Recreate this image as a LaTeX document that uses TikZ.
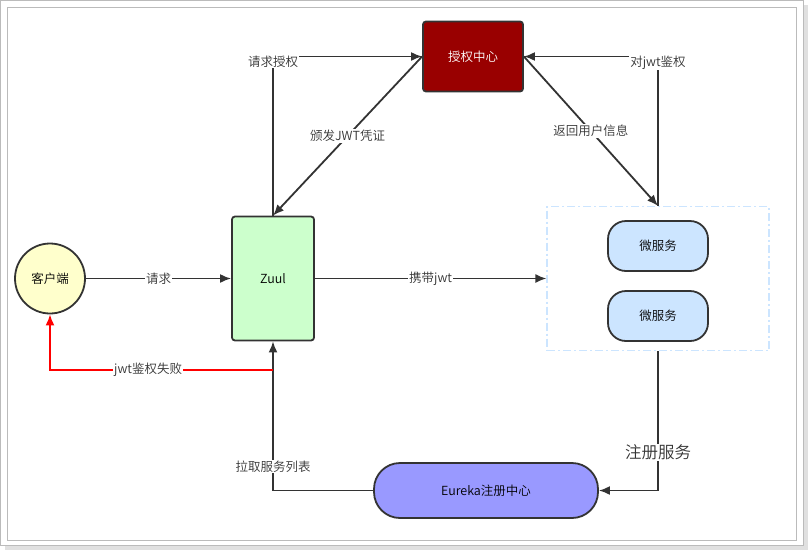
\documentclass[tikz,border=0pt]{standalone}
\usepackage{fontspec}
\setmainfont{Noto Sans CJK SC}[UprightFont=* DemiLight]
\usetikzlibrary{arrows.meta}
\definecolor{linegray}{HTML}{333333}
\definecolor{framegray}{HTML}{BBBBBB}
\definecolor{authred}{HTML}{990000}
\definecolor{zuulgreen}{HTML}{CCFFCC}
\definecolor{clientyellow}{HTML}{FFFFCC}
\definecolor{msblue}{HTML}{CCE5FF}
\definecolor{eurekablue}{HTML}{9999FF}
\tikzset{
    box/.style={draw=linegray, line width=1.8pt, font=\fontsize{12.5}{14}\selectfont, inner sep=0pt},
    flow/.style={draw=linegray, line width=1.8pt, -{Latex[length=11pt,width=9pt]}},
    lbl/.style={fill=white, inner sep=1pt, text=linegray, font=\fontsize{12.5}{14}\selectfont}
}
\begin{document}
\begin{tikzpicture}[x=1pt, y=-1pt]
            \useasboundingbox (0,0) rectangle (810,552);
            % frame
            \fill[black!12] (5,5) rectangle (808,550);
            \draw[framegray, fill=white] (0.5,0.5) rectangle (803,545);
            \draw[framegray, line width=1pt] (7.5,7.5) rectangle (796,540);
            % nodes
            \node[box, fill=authred, text=white, rounded corners=3pt, minimum width=100pt, minimum height=70pt] (auth) at (473,56.5) {授权中心};
            \node[box, fill=zuulgreen, rounded corners=3pt, minimum width=82pt, minimum height=124pt] (zuul) at (273,278.5) {Zuul};
            \node[box, fill=clientyellow, circle, minimum size=70pt] (client) at (50,278.5) {客户端};
            \node[draw=msblue, line width=1.2pt, dash pattern=on 8pt off 3pt on 2pt off 3pt, minimum width=222pt, minimum height=144pt] (svc) at (658,278.5) {};
            \node[box, fill=msblue, rounded corners=18pt, minimum width=100pt, minimum height=50pt] (ms1) at (658,246) {微服务};
            \node[box, fill=msblue, rounded corners=18pt, minimum width=100pt, minimum height=50pt] (ms2) at (658,316) {微服务};
            \node[box, fill=eurekablue, rounded corners=26pt, minimum width=224pt, minimum height=55pt] (eureka) at (486,490.5) {Eureka注册中心};
            \coordinate (fail) at (273,370);
            % connectors
            \draw[flow] (client) -- (zuul) node[lbl, midway] {请求};
            \draw[flow] (zuul) -- (svc.west) node[lbl, midway] {携带jwt};
            \draw[flow] (zuul.north) |- (auth.west) node[lbl, pos=0.484] {请求授权};
            \draw[flow] (auth.west) -- (zuul.north) node[lbl, midway] {颁发JWT凭证};
            \draw[flow] (auth.east) -- (svc.north) node[lbl, midway] {返回用户信息};
            \draw[flow] (svc.north) |- (auth.east) node[lbl, pos=0.48] {对jwt鉴权};
            \draw[flow] (svc.south) |- (eureka.east) node[lbl, pos=0.364, font=\fontsize{16.5}{18}\selectfont] {注册服务};
            \draw[flow] (eureka.west) -| (zuul.south) node[lbl, pos=0.58] {拉取服务列表};
            \draw[flow, draw=red] (fail) -| (client.south) node[lbl, pos=0.28] {jwt鉴权失败};
        \end{tikzpicture}
\end{document}
